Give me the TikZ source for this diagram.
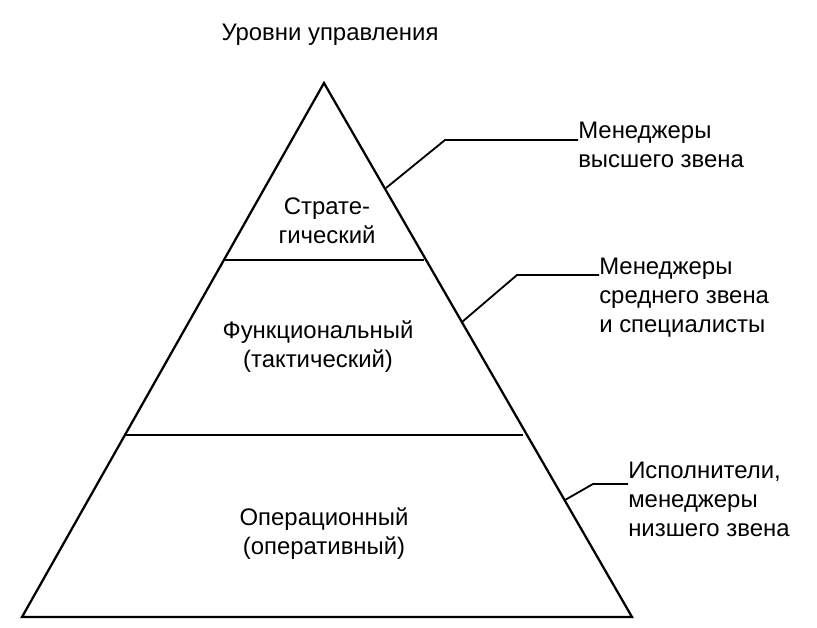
\documentclass[tikz,border=0pt]{standalone}
\usepackage{fontspec}
\setmainfont{Liberation Sans}
\begin{document}
\begin{tikzpicture}[x=0.025cm,y=-0.025cm]
    \tikzstyle{every node} = [font=\fontsize{17}{20.5}\selectfont]
    \tikzstyle{level} = [align=center]
    \tikzstyle{note} = [align=left, anchor=north west, inner sep=0pt]
    \tikzstyle{leader} = [line width=1.3pt]
    \useasboundingbox (0,0) rectangle (817,627);
    % pyramid
    \coordinate (apex) at (324,83);
    \coordinate (bl) at (22,617);
    \coordinate (br) at (632,617);
    \draw[line width=1.6pt] (apex) -- (bl) -- (br) -- cycle;
    \draw[line width=1.6pt] (224,260) -- (424,260);
    \draw[line width=1.6pt] (125,435) -- (523,435);
    % texts
    \node (title) at (330,35) {Уровни управления};
    \node[level] (strat) at (327,221) {Страте-\\гический};
    \node[level] (func) at (318,347) {Функциональный\\(тактический)};
    \node[level] (oper) at (324,534) {Операционный\\(оперативный)};
    \node[note] (top) at (578,122) {Менеджеры\\высшего звена};
    \node[note] (mid) at (599,258) {Менеджеры\\среднего звена\\и специалисты};
    \node[note] (low) at (628,462) {Исполнители,\\менеджеры\\низшего звена};
    % leaders
    \draw[leader] (386,188) -- (445,140) -- (top.north west |- 0,140);
    \draw[leader] (462,322) -- (517,275) -- (mid.north west |- 0,275);
    \draw[leader] (565,500) -- (593,484) -- (low.north west |- 0,484);
\end{tikzpicture}
\end{document}
